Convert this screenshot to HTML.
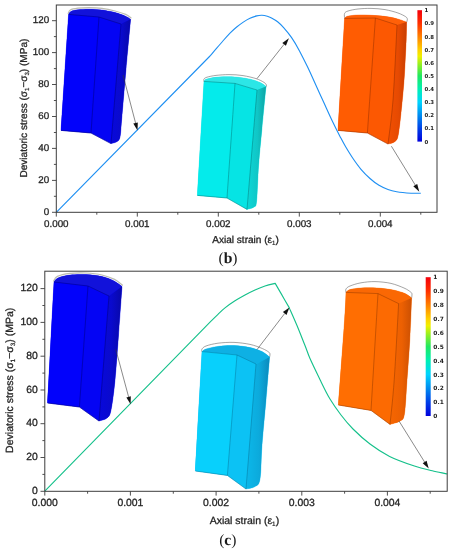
<!DOCTYPE html>
<html><head><meta charset="utf-8"><title>Figure</title>
<style>
html,body{margin:0;padding:0;background:#fff;}
body{width:450px;height:550px;overflow:hidden;}
svg text{stroke-linejoin:round}
.ax text{stroke:#262626;stroke-width:0.3px}
svg{display:block;font-family:"Liberation Sans",sans-serif;text-rendering:geometricPrecision;}
</style></head><body>
<svg width="450" height="550" viewBox="0 0 450 550">
<defs>
<linearGradient id="jet" x1="0" y1="0" x2="0" y2="1">
<stop offset="0" stop-color="#f4000c"/>
<stop offset="0.1" stop-color="#ff3000"/>
<stop offset="0.2" stop-color="#ff8000"/>
<stop offset="0.3" stop-color="#ffd000"/>
<stop offset="0.35" stop-color="#f0f000"/>
<stop offset="0.41" stop-color="#98f020"/>
<stop offset="0.5" stop-color="#20e860"/>
<stop offset="0.6" stop-color="#00f0b4"/>
<stop offset="0.7" stop-color="#00d4ff"/>
<stop offset="0.8" stop-color="#008cf0"/>
<stop offset="0.9" stop-color="#0040e8"/>
<stop offset="1" stop-color="#0000dc"/>
</linearGradient>
<linearGradient id="gb" x1="0" y1="0" x2="1" y2="0"><stop offset="0" stop-color="#0808dc"/><stop offset="0.55" stop-color="#0a0acc"/><stop offset="1" stop-color="#0808a8"/></linearGradient>
<linearGradient id="gc" x1="0" y1="0" x2="1" y2="0"><stop offset="0" stop-color="#0cd8d8"/><stop offset="0.55" stop-color="#10c6c6"/><stop offset="1" stop-color="#0ea4a4"/></linearGradient>
<linearGradient id="go" x1="0" y1="0" x2="1" y2="0"><stop offset="0" stop-color="#f25002"/><stop offset="0.55" stop-color="#e64a02"/><stop offset="1" stop-color="#c83e02"/></linearGradient>
<linearGradient id="gc2" x1="0" y1="0" x2="1" y2="0"><stop offset="0" stop-color="#0cb8ea"/><stop offset="0.55" stop-color="#0caadc"/><stop offset="1" stop-color="#0a8abc"/></linearGradient>
<linearGradient id="go2" x1="0" y1="0" x2="1" y2="0"><stop offset="0" stop-color="#f66602"/><stop offset="0.55" stop-color="#ec6002"/><stop offset="1" stop-color="#cc5002"/></linearGradient>
</defs>
<rect width="450" height="550" fill="#fff"/>

<g id="plot-b">
<path d="M56.3,212.3 L210.0,56.0 C211.1,54.7 214.5,50.8 216.7,48.2 C218.9,45.6 221.1,43.0 223.3,40.5 C225.5,38.0 227.8,35.4 230.0,33.1 C232.2,30.9 234.5,28.8 236.7,27.0 C238.9,25.2 241.1,23.6 243.3,22.1 C245.5,20.6 247.8,19.2 250.0,18.2 C252.2,17.2 254.7,16.4 256.7,15.9 C258.7,15.4 260.2,15.2 262.0,15.3 C263.8,15.4 265.7,15.8 267.3,16.2 C268.9,16.6 269.8,17.0 271.5,17.9 C273.2,18.8 275.6,20.1 277.6,21.7 C279.6,23.3 281.1,24.8 283.4,27.4 C285.7,30.0 288.9,33.7 291.6,37.6 C294.3,41.5 296.9,46.0 299.5,50.9 C302.1,55.8 304.8,61.2 307.5,66.8 C310.2,72.4 312.9,78.6 315.6,84.5 C318.3,90.4 321.0,96.4 323.7,102.3 C326.4,108.2 329.1,114.3 331.8,120.0 C334.5,125.7 337.7,132.0 340.0,136.4 C342.3,140.8 343.3,142.8 345.5,146.5 C347.7,150.2 350.4,154.7 353.0,158.5 C355.6,162.3 358.2,166.0 361.0,169.3 C363.8,172.6 367.0,175.8 370.0,178.5 C373.0,181.2 376.0,183.5 379.0,185.3 C382.0,187.1 385.1,188.4 388.0,189.5 C390.9,190.6 392.9,191.1 396.7,191.7 C400.5,192.3 407.0,192.9 411.0,193.2 C415.0,193.4 419.2,193.2 420.8,193.2" fill="none" stroke="#1e8ff2" stroke-width="1.12" stroke-linejoin="round"/>
<path d="M68.2,13.4 C68.5,12.8 68.7,10.9 70.3,10.0 C71.9,9.1 74.9,8.6 78.0,8.2 C81.1,7.8 85.0,7.6 89.0,7.6 C93.0,7.6 97.7,7.8 102.0,8.4 C106.3,9.0 111.0,10.0 115.0,11.0 C119.0,12.0 123.0,13.3 125.7,14.4 C128.4,15.5 130.1,17.2 131.0,17.8" fill="none" stroke="#bcbcb0" stroke-width="1.20" stroke-linecap="round"/>
<path d="M68.6,14.4 C69.0,13.9 69.4,12.2 71.0,11.4 C72.6,10.6 75.0,10.2 78.0,9.8 C81.0,9.4 85.0,9.2 89.0,9.2 C93.0,9.2 97.7,9.4 102.0,10.0 C106.3,10.6 111.2,11.6 115.0,12.6 C118.8,13.6 122.4,14.9 125.0,16.0 C127.6,17.1 129.7,18.7 130.6,19.2 C129.8,27.5 127.5,52.2 126.0,69.0 C124.5,85.8 122.6,108.7 121.6,120.0 C120.6,131.3 120.8,133.4 120.0,137.0 C119.2,140.6 118.5,140.5 117.0,141.6 C115.5,142.7 112.0,143.3 111.0,143.6 L91.0,133.0 L61.0,130.4 C62.3,111.1 67.3,33.7 68.6,14.4 Z" fill="#0404f4" stroke="#0404f4" stroke-width="0.4" stroke-linejoin="round"/>
<path d="M68.6,14.4 C69.0,13.9 69.4,12.2 71.0,11.4 C72.6,10.6 75.0,10.2 78.0,9.8 C81.0,9.4 85.0,9.2 89.0,9.2 C93.0,9.2 97.7,9.4 102.0,10.0 C106.3,10.6 111.2,11.6 115.0,12.6 C118.8,13.6 122.4,14.9 125.0,16.0 C127.6,17.1 129.7,18.7 130.6,19.2 L121.0,24.0 L99.0,17.0 Z" fill="#1212da"/>
<path d="M68.6,14.4 L99.0,17.0 C97.7,36.3 92.3,113.7 91.0,133.0 L61.0,130.4 C62.3,111.1 67.3,33.7 68.6,14.4 Z" fill="#0202fb"/>
<path d="M121.0,24.0 L130.6,19.2 C129.8,27.5 127.5,52.2 126.0,69.0 C124.5,85.8 122.6,108.7 121.6,120.0 C120.6,131.3 120.8,133.4 120.0,137.0 C119.2,140.6 118.5,140.5 117.0,141.6 C115.5,142.7 112.0,143.3 111.0,143.6 C112.7,123.7 119.3,43.9 121.0,24.0 Z" fill="url(#gb)"/>
<path d="M99.0,17.0 C97.7,36.3 92.3,113.7 91.0,133.0 M68.6,14.4 L99.0,17.0 L121.0,24.0 C119.3,43.9 112.7,123.7 111.0,143.6 M61.0,130.4 L91.0,133.0 L111.0,143.6" fill="none" stroke="#000070" stroke-width="0.5" stroke-linejoin="round" opacity="0.90"/>
<path d="M204.0,81.4 C204.0,81.0 203.5,79.7 204.0,79.0 C204.5,78.3 205.0,77.8 207.0,77.2 C209.0,76.6 212.3,75.8 216.0,75.4 C219.7,75.0 224.5,74.6 229.0,74.6 C233.5,74.6 238.5,74.9 243.0,75.6 C247.5,76.3 252.5,77.5 256.0,78.6 C259.5,79.7 262.3,81.3 264.0,82.4 C265.7,83.5 266.1,84.2 266.4,85.0 C266.7,85.8 266.1,86.7 266.0,87.0" fill="none" stroke="#5a5a5a" stroke-width="0.55" stroke-linecap="round"/>
<path d="M204.0,81.4 C204.5,81.0 204.5,79.7 207.0,79.0 C209.5,78.3 214.3,77.3 219.0,77.0 C223.7,76.7 229.7,76.6 235.0,77.0 C240.3,77.4 246.7,78.4 251.0,79.4 C255.3,80.4 258.5,81.8 261.0,83.0 C263.5,84.2 265.2,86.0 266.0,86.6 C265.3,93.5 263.2,114.9 262.0,128.0 C260.8,141.1 259.5,152.8 258.6,165.0 C257.7,177.2 257.4,194.0 256.6,201.0 C255.8,208.0 255.6,205.6 254.0,207.0 C252.4,208.4 248.2,209.0 247.0,209.4 L227.0,198.0 L197.4,195.4 C198.5,176.4 202.9,100.4 204.0,81.4 Z" fill="#06e4e4" stroke="#06e4e4" stroke-width="0.4" stroke-linejoin="round"/>
<path d="M204.0,81.4 C204.5,81.0 204.5,79.7 207.0,79.0 C209.5,78.3 214.3,77.3 219.0,77.0 C223.7,76.7 229.7,76.6 235.0,77.0 C240.3,77.4 246.7,78.4 251.0,79.4 C255.3,80.4 258.5,81.8 261.0,83.0 C263.5,84.2 265.2,86.0 266.0,86.6 L257.0,90.0 L235.0,83.4 Z" fill="#2ce6e6"/>
<path d="M204.0,81.4 L235.0,83.4 C233.7,102.5 228.3,178.9 227.0,198.0 L197.4,195.4 C198.5,176.4 202.9,100.4 204.0,81.4 Z" fill="#04ebeb"/>
<path d="M257.0,90.0 L266.0,86.6 C265.3,93.5 263.2,114.9 262.0,128.0 C260.8,141.1 259.5,152.8 258.6,165.0 C257.7,177.2 257.4,194.0 256.6,201.0 C255.8,208.0 255.6,205.6 254.0,207.0 C252.4,208.4 248.2,209.0 247.0,209.4 C248.7,189.5 255.3,109.9 257.0,90.0 Z" fill="url(#gc)"/>
<path d="M235.0,83.4 C233.7,102.5 228.3,178.9 227.0,198.0 M204.0,81.4 L235.0,83.4 L257.0,90.0 C255.3,109.9 248.7,189.5 247.0,209.4 M197.4,195.4 L227.0,198.0 L247.0,209.4" fill="none" stroke="#046868" stroke-width="0.5" stroke-linejoin="round" opacity="0.85"/>
<path d="M344.6,18.4 C344.6,17.6 344.0,14.6 344.6,13.4 C345.2,12.2 345.8,11.7 348.0,11.0 C350.2,10.3 354.2,9.4 358.0,9.0 C361.8,8.6 366.5,8.3 371.0,8.4 C375.5,8.5 380.5,8.8 385.0,9.6 C389.5,10.4 394.6,11.8 398.0,13.0 C401.4,14.2 403.9,15.6 405.5,16.6 C407.1,17.6 407.2,18.3 407.4,19.2 C407.6,20.1 406.7,21.5 406.6,22.0" fill="none" stroke="#5a5a5a" stroke-width="0.55" stroke-linecap="round"/>
<path d="M344.6,18.4 C345.0,18.1 345.3,16.9 347.0,16.4 C348.7,15.9 352.0,15.4 355.0,15.2 C358.0,15.0 361.5,14.9 365.0,15.0 C368.5,15.1 372.0,15.3 376.0,15.6 C380.0,15.9 385.2,16.4 389.0,17.0 C392.8,17.6 396.1,18.6 399.0,19.4 C401.9,20.2 405.3,21.6 406.6,22.0 C406.5,25.0 406.6,31.2 406.2,40.0 C405.8,48.8 405.1,64.2 404.4,75.0 C403.7,85.8 402.8,95.2 401.8,105.0 C400.8,114.8 399.5,127.9 398.4,134.0 C397.3,140.1 396.7,139.9 395.0,141.6 C393.3,143.3 389.2,143.6 388.0,144.0 L367.4,133.0 L338.0,130.4 C339.1,111.7 343.5,37.1 344.6,18.4 Z" fill="#fc5802" stroke="#fc5802" stroke-width="0.4" stroke-linejoin="round"/>
<path d="M344.6,18.4 C345.0,18.1 345.3,16.9 347.0,16.4 C348.7,15.9 352.0,15.4 355.0,15.2 C358.0,15.0 361.5,14.9 365.0,15.0 C368.5,15.1 372.0,15.3 376.0,15.6 C380.0,15.9 385.2,16.4 389.0,17.0 C392.8,17.6 396.1,18.6 399.0,19.4 C401.9,20.2 405.3,21.6 406.6,22.0 L397.0,25.0 L375.4,18.0 Z" fill="#ff6008"/>
<path d="M344.6,18.4 L375.4,18.0 C374.1,37.2 368.7,113.8 367.4,133.0 L338.0,130.4 C339.1,111.7 343.5,37.1 344.6,18.4 Z" fill="#ff5c02"/>
<path d="M397.0,25.0 L406.6,22.0 C406.5,25.0 406.6,31.2 406.2,40.0 C405.8,48.8 405.1,64.2 404.4,75.0 C403.7,85.8 402.8,95.2 401.8,105.0 C400.8,114.8 399.5,127.9 398.4,134.0 C397.3,140.1 396.7,139.9 395.0,141.6 C393.3,143.3 389.2,143.6 388.0,144.0 C388.8,136.7 391.5,119.8 393.0,100.0 C394.5,80.2 396.3,37.5 397.0,25.0 Z" fill="url(#go)"/>
<path d="M375.4,18.0 C374.1,37.2 368.7,113.8 367.4,133.0 M344.6,18.4 L375.4,18.0 L397.0,25.0 C396.3,37.5 394.5,80.2 393.0,100.0 C391.5,119.8 388.8,136.7 388.0,144.0 M338.0,130.4 L367.4,133.0 L388.0,144.0" fill="none" stroke="#702000" stroke-width="0.5" stroke-linejoin="round" opacity="0.75"/>
<line x1="123.0" y1="75.0" x2="135.6" y2="123.1" stroke="#3a3a3a" stroke-width="0.6"/><polygon points="137.5,130.5 133.3,123.6 137.8,122.5" fill="#111"/>
<line x1="257.0" y1="78.6" x2="284.1" y2="44.3" stroke="#3a3a3a" stroke-width="0.6"/><polygon points="288.9,38.3 285.9,45.8 282.3,42.9" fill="#111"/>
<line x1="391.4" y1="146.2" x2="415.3" y2="185.1" stroke="#3a3a3a" stroke-width="0.6"/><polygon points="419.3,191.7 413.3,186.3 417.2,183.9" fill="#111"/>
<rect x="417.4" y="10.2" width="4.6" height="131.4" fill="url(#jet)"/>
<text x="424.4" y="12.2" font-size="5.40" fill="#222" font-weight="bold" font-family="'DejaVu Sans',sans-serif">1</text>
<text x="424.4" y="25.3" font-size="5.40" fill="#222" font-weight="bold" font-family="'DejaVu Sans',sans-serif">0.9</text>
<text x="424.4" y="38.5" font-size="5.40" fill="#222" font-weight="bold" font-family="'DejaVu Sans',sans-serif">0.8</text>
<text x="424.4" y="51.6" font-size="5.40" fill="#222" font-weight="bold" font-family="'DejaVu Sans',sans-serif">0.7</text>
<text x="424.4" y="64.7" font-size="5.40" fill="#222" font-weight="bold" font-family="'DejaVu Sans',sans-serif">0.6</text>
<text x="424.4" y="77.9" font-size="5.40" fill="#222" font-weight="bold" font-family="'DejaVu Sans',sans-serif">0.5</text>
<text x="424.4" y="91.0" font-size="5.40" fill="#222" font-weight="bold" font-family="'DejaVu Sans',sans-serif">0.4</text>
<text x="424.4" y="104.2" font-size="5.40" fill="#222" font-weight="bold" font-family="'DejaVu Sans',sans-serif">0.3</text>
<text x="424.4" y="117.3" font-size="5.40" fill="#222" font-weight="bold" font-family="'DejaVu Sans',sans-serif">0.2</text>
<text x="424.4" y="130.4" font-size="5.40" fill="#222" font-weight="bold" font-family="'DejaVu Sans',sans-serif">0.1</text>
<text x="424.4" y="143.6" font-size="5.40" fill="#222" font-weight="bold" font-family="'DejaVu Sans',sans-serif">0</text>
<g class="ax">
<rect x="56.3" y="5.0" width="380.7" height="207.3" fill="none" stroke="#3c3c3c" stroke-width="1"/>
<line x1="52.0" y1="212.3" x2="56.3" y2="212.3" stroke="#3c3c3c" stroke-width="0.9"/>
<text x="49.2" y="214.7" font-size="9.80" text-anchor="end" fill="#262626">0</text>
<line x1="53.9" y1="196.3" x2="56.3" y2="196.3" stroke="#3c3c3c" stroke-width="0.9"/>
<line x1="52.0" y1="180.4" x2="56.3" y2="180.4" stroke="#3c3c3c" stroke-width="0.9"/>
<text x="49.2" y="182.8" font-size="9.80" text-anchor="end" fill="#262626">20</text>
<line x1="53.9" y1="164.4" x2="56.3" y2="164.4" stroke="#3c3c3c" stroke-width="0.9"/>
<line x1="52.0" y1="148.4" x2="56.3" y2="148.4" stroke="#3c3c3c" stroke-width="0.9"/>
<text x="49.2" y="150.8" font-size="9.80" text-anchor="end" fill="#262626">40</text>
<line x1="53.9" y1="132.5" x2="56.3" y2="132.5" stroke="#3c3c3c" stroke-width="0.9"/>
<line x1="52.0" y1="116.5" x2="56.3" y2="116.5" stroke="#3c3c3c" stroke-width="0.9"/>
<text x="49.2" y="118.9" font-size="9.80" text-anchor="end" fill="#262626">60</text>
<line x1="53.9" y1="100.5" x2="56.3" y2="100.5" stroke="#3c3c3c" stroke-width="0.9"/>
<line x1="52.0" y1="84.5" x2="56.3" y2="84.5" stroke="#3c3c3c" stroke-width="0.9"/>
<text x="49.2" y="86.9" font-size="9.80" text-anchor="end" fill="#262626">80</text>
<line x1="53.9" y1="68.6" x2="56.3" y2="68.6" stroke="#3c3c3c" stroke-width="0.9"/>
<line x1="52.0" y1="52.6" x2="56.3" y2="52.6" stroke="#3c3c3c" stroke-width="0.9"/>
<text x="49.2" y="55.0" font-size="9.80" text-anchor="end" fill="#262626">100</text>
<line x1="53.9" y1="36.6" x2="56.3" y2="36.6" stroke="#3c3c3c" stroke-width="0.9"/>
<line x1="52.0" y1="20.7" x2="56.3" y2="20.7" stroke="#3c3c3c" stroke-width="0.9"/>
<text x="49.2" y="23.1" font-size="9.80" text-anchor="end" fill="#262626">120</text>
<line x1="56.3" y1="212.3" x2="56.3" y2="216.6" stroke="#3c3c3c" stroke-width="0.9"/>
<text x="56.3" y="226.7" font-size="9.80" text-anchor="middle" fill="#262626">0.000</text>
<line x1="96.8" y1="212.3" x2="96.8" y2="214.7" stroke="#3c3c3c" stroke-width="0.9"/>
<line x1="137.3" y1="212.3" x2="137.3" y2="216.6" stroke="#3c3c3c" stroke-width="0.9"/>
<text x="137.3" y="226.7" font-size="9.80" text-anchor="middle" fill="#262626">0.001</text>
<line x1="177.8" y1="212.3" x2="177.8" y2="214.7" stroke="#3c3c3c" stroke-width="0.9"/>
<line x1="218.3" y1="212.3" x2="218.3" y2="216.6" stroke="#3c3c3c" stroke-width="0.9"/>
<text x="218.3" y="226.7" font-size="9.80" text-anchor="middle" fill="#262626">0.002</text>
<line x1="258.8" y1="212.3" x2="258.8" y2="214.7" stroke="#3c3c3c" stroke-width="0.9"/>
<line x1="299.3" y1="212.3" x2="299.3" y2="216.6" stroke="#3c3c3c" stroke-width="0.9"/>
<text x="299.3" y="226.7" font-size="9.80" text-anchor="middle" fill="#262626">0.003</text>
<line x1="339.8" y1="212.3" x2="339.8" y2="214.7" stroke="#3c3c3c" stroke-width="0.9"/>
<line x1="380.3" y1="212.3" x2="380.3" y2="216.6" stroke="#3c3c3c" stroke-width="0.9"/>
<text x="380.3" y="226.7" font-size="9.80" text-anchor="middle" fill="#262626">0.004</text>
<line x1="420.8" y1="212.3" x2="420.8" y2="214.7" stroke="#3c3c3c" stroke-width="0.9"/>
<text x="245.5" y="242.8" font-size="10.05" text-anchor="middle" fill="#262626">Axial strain (ε<tspan font-size="6.03" dy="2.0" stroke-width="0.2">1</tspan><tspan dy="-2.0">)</tspan></text>
<text transform="translate(26.8 108.1) rotate(-90)" font-size="10.05" text-anchor="middle" fill="#262626">Deviatoric stress (σ<tspan font-size="6.03" dy="2.0" stroke-width="0.2">1</tspan><tspan dy="-2.0">−σ</tspan><tspan font-size="6.03" dy="2.0" stroke-width="0.2">3</tspan><tspan dy="-2.0">) (MPa)</tspan></text>
</g>
<text x="228.0" y="262.6" font-size="15.6" text-anchor="middle" fill="#1a1a1a" font-family="'Liberation Serif',serif">(<tspan font-weight="bold">b</tspan>)</text>
</g>
<g id="plot-c">
<path d="M44.8,491.1 L211.0,321.2 C212.2,320.1 215.7,316.5 218.0,314.3 C220.3,312.1 222.2,310.1 225.0,307.9 C227.8,305.6 231.7,302.9 235.0,300.8 C238.3,298.7 241.7,296.8 245.0,295.0 C248.3,293.2 251.7,291.5 255.0,290.0 C258.3,288.5 261.6,287.1 265.0,286.0 C268.4,284.9 273.5,283.8 275.2,283.4 C276.2,285.1 278.7,289.4 281.0,293.4 C283.3,297.4 287.8,305.2 289.2,307.6 C290.5,310.6 294.4,319.2 297.0,325.5 C299.6,331.8 302.8,340.0 305.0,345.5 C307.2,351.0 307.5,352.8 310.0,358.5 C312.5,364.2 316.9,373.2 320.2,380.0 C323.5,386.8 326.5,393.2 330.0,399.0 C333.5,404.8 337.2,410.0 341.0,415.0 C344.8,420.0 348.2,424.2 353.0,429.0 C357.8,433.8 363.9,439.4 370.0,444.0 C376.1,448.6 382.2,452.7 389.6,456.4 C397.0,460.1 407.3,463.6 414.4,466.0 C421.5,468.4 426.7,469.4 432.2,470.7 C437.7,472.0 444.7,473.4 447.2,474.0" fill="none" stroke="#14c08a" stroke-width="1.12" stroke-linejoin="round"/>
<path d="M53.6,281.0 C54.2,280.2 54.7,277.7 57.4,276.4 C60.1,275.1 65.2,274.0 70.0,273.4 C74.8,272.8 80.7,272.7 86.0,273.0 C91.3,273.3 97.2,273.9 102.0,275.0 C106.8,276.1 111.2,277.7 114.6,279.4 C118.0,281.1 121.2,284.2 122.5,285.2" fill="none" stroke="#bcbcb0" stroke-width="1.20" stroke-linecap="round"/>
<path d="M54.0,282.0 C54.7,281.3 55.3,279.2 58.0,278.0 C60.7,276.8 65.3,275.6 70.0,275.0 C74.7,274.4 80.7,274.3 86.0,274.6 C91.3,274.9 97.3,275.5 102.0,276.6 C106.7,277.7 110.7,279.3 114.0,281.0 C117.3,282.7 120.7,285.7 122.0,286.6 C121.4,294.7 119.7,319.4 118.5,335.0 C117.3,350.6 116.2,367.5 115.0,380.0 C113.8,392.5 112.3,403.7 111.0,410.0 C109.7,416.3 109.0,416.2 107.0,418.0 C105.0,419.8 100.3,420.5 99.0,421.0 L79.4,407.0 L47.6,403.0 C48.7,382.8 52.9,302.2 54.0,282.0 Z" fill="#0404f4" stroke="#0404f4" stroke-width="0.4" stroke-linejoin="round"/>
<path d="M54.0,282.0 C54.7,281.3 55.3,279.2 58.0,278.0 C60.7,276.8 65.3,275.6 70.0,275.0 C74.7,274.4 80.7,274.3 86.0,274.6 C91.3,274.9 97.3,275.5 102.0,276.6 C106.7,277.7 110.7,279.3 114.0,281.0 C117.3,282.7 120.7,285.7 122.0,286.6 L109.0,296.0 L88.0,286.0 Z" fill="#1212da"/>
<path d="M54.0,282.0 L88.0,286.0 C86.6,306.2 80.8,386.8 79.4,407.0 L47.6,403.0 C48.7,382.8 52.9,302.2 54.0,282.0 Z" fill="#0202fb"/>
<path d="M109.0,296.0 L122.0,286.6 C121.4,294.7 119.7,319.4 118.5,335.0 C117.3,350.6 116.2,367.5 115.0,380.0 C113.8,392.5 112.3,403.7 111.0,410.0 C109.7,416.3 109.0,416.2 107.0,418.0 C105.0,419.8 100.3,420.5 99.0,421.0 C100.7,400.2 107.3,316.8 109.0,296.0 Z" fill="url(#gb)"/>
<path d="M88.0,286.0 C86.6,306.2 80.8,386.8 79.4,407.0 M54.0,282.0 L88.0,286.0 L109.0,296.0 C107.3,316.8 100.7,400.2 99.0,421.0 M47.6,403.0 L79.4,407.0 L99.0,421.0" fill="none" stroke="#000070" stroke-width="0.5" stroke-linejoin="round" opacity="0.90"/>
<path d="M202.0,351.6 C202.0,351.2 201.3,349.9 202.0,349.0 C202.7,348.1 203.3,347.0 206.0,346.0 C208.7,345.0 213.3,343.8 218.0,343.2 C222.7,342.6 228.7,342.2 234.0,342.4 C239.3,342.6 245.2,343.4 250.0,344.4 C254.8,345.4 259.4,347.3 262.5,348.6 C265.6,349.9 267.4,351.1 268.6,352.0 C269.9,352.9 269.8,353.2 270.0,354.0 C270.2,354.8 269.7,356.5 269.6,357.0" fill="none" stroke="#5a5a5a" stroke-width="0.55" stroke-linecap="round"/>
<path d="M202.0,351.6 C202.7,351.2 203.3,349.9 206.0,349.0 C208.7,348.1 213.3,347.0 218.0,346.4 C222.7,345.8 228.7,345.4 234.0,345.6 C239.3,345.8 245.3,346.6 250.0,347.6 C254.7,348.6 258.7,350.0 262.0,351.6 C265.3,353.2 268.3,356.1 269.6,357.0 C269.0,364.2 267.3,385.3 266.0,400.0 C264.7,414.7 263.0,431.8 262.0,445.0 C261.0,458.2 261.2,472.1 260.0,479.0 C258.8,485.9 257.3,484.9 255.0,486.6 C252.7,488.3 247.5,488.6 246.0,489.0 L227.4,475.4 L195.4,471.0 C196.5,451.1 200.9,371.5 202.0,351.6 Z" fill="#0cc2f4" stroke="#0cc2f4" stroke-width="0.4" stroke-linejoin="round"/>
<path d="M202.0,351.6 C202.7,351.2 203.3,349.9 206.0,349.0 C208.7,348.1 213.3,347.0 218.0,346.4 C222.7,345.8 228.7,345.4 234.0,345.6 C239.3,345.8 245.3,346.6 250.0,347.6 C254.7,348.6 258.7,350.0 262.0,351.6 C265.3,353.2 268.3,356.1 269.6,357.0 L256.0,364.0 L237.0,355.0 Z" fill="#0eb0e4"/>
<path d="M202.0,351.6 L237.0,355.0 C235.4,375.1 229.0,455.3 227.4,475.4 L195.4,471.0 C196.5,451.1 200.9,371.5 202.0,351.6 Z" fill="#08d0fc"/>
<path d="M256.0,364.0 L269.6,357.0 C269.0,364.2 267.3,385.3 266.0,400.0 C264.7,414.7 263.0,431.8 262.0,445.0 C261.0,458.2 261.2,472.1 260.0,479.0 C258.8,485.9 257.3,484.9 255.0,486.6 C252.7,488.3 247.5,488.6 246.0,489.0 C247.7,468.2 254.3,384.8 256.0,364.0 Z" fill="url(#gc2)"/>
<path d="M237.0,355.0 C235.4,375.1 229.0,455.3 227.4,475.4 M202.0,351.6 L237.0,355.0 L256.0,364.0 C254.3,384.8 247.7,468.2 246.0,489.0 M195.4,471.0 L227.4,475.4 L246.0,489.0" fill="none" stroke="#045878" stroke-width="0.5" stroke-linejoin="round" opacity="0.70"/>
<path d="M346.0,292.4 C346.0,291.8 345.3,290.1 346.0,289.0 C346.7,287.9 347.5,287.0 350.0,286.0 C352.5,285.0 356.8,283.5 361.0,282.8 C365.2,282.1 370.0,281.5 375.0,281.6 C380.0,281.7 386.2,282.3 391.0,283.4 C395.8,284.5 400.7,286.6 404.0,288.0 C407.3,289.4 409.3,291.0 410.6,292.0 C411.9,293.0 411.8,293.0 412.0,294.0 C412.2,295.0 411.7,297.3 411.6,298.0" fill="none" stroke="#5a5a5a" stroke-width="0.55" stroke-linecap="round"/>
<path d="M346.0,292.4 C346.7,291.9 347.5,290.3 350.0,289.6 C352.5,288.9 356.5,288.3 361.0,288.0 C365.5,287.7 371.7,287.7 377.0,288.0 C382.3,288.3 388.3,289.1 393.0,290.0 C397.7,290.9 401.9,292.3 405.0,293.6 C408.1,294.9 410.5,297.3 411.6,298.0 C411.3,305.0 410.6,326.3 409.8,340.0 C409.0,353.7 407.9,367.7 407.0,380.0 C406.1,392.3 405.6,407.2 404.4,414.0 C403.2,420.8 402.4,419.3 400.0,421.0 C397.6,422.7 391.7,423.8 390.0,424.4 L371.0,410.4 L338.4,405.0 C339.4,390.8 343.3,338.8 344.6,320.0 C345.9,301.2 345.8,297.0 346.0,292.4 Z" fill="#fc6a02" stroke="#fc6a02" stroke-width="0.4" stroke-linejoin="round"/>
<path d="M346.0,292.4 C346.7,291.9 347.5,290.3 350.0,289.6 C352.5,288.9 356.5,288.3 361.0,288.0 C365.5,287.7 371.7,287.7 377.0,288.0 C382.3,288.3 388.3,289.1 393.0,290.0 C397.7,290.9 401.9,292.3 405.0,293.6 C408.1,294.9 410.5,297.3 411.6,298.0 L398.6,303.6 L378.0,293.6 Z" fill="#fa6804"/>
<path d="M346.0,292.4 L378.0,293.6 C376.8,313.1 372.2,390.9 371.0,410.4 L338.4,405.0 C339.4,390.8 343.3,338.8 344.6,320.0 C345.9,301.2 345.8,297.0 346.0,292.4 Z" fill="#ff6e02"/>
<path d="M398.6,303.6 L411.6,298.0 C411.3,305.0 410.6,326.3 409.8,340.0 C409.0,353.7 407.9,367.7 407.0,380.0 C406.1,392.3 405.6,407.2 404.4,414.0 C403.2,420.8 402.4,419.3 400.0,421.0 C397.6,422.7 391.7,423.8 390.0,424.4 C390.7,417.0 392.8,400.1 394.2,380.0 C395.6,359.9 397.9,316.3 398.6,303.6 Z" fill="url(#go2)"/>
<path d="M378.0,293.6 C376.8,313.1 372.2,390.9 371.0,410.4 M346.0,292.4 L378.0,293.6 L398.6,303.6 C397.9,316.3 395.6,359.9 394.2,380.0 C392.8,400.1 390.7,417.0 390.0,424.4 M338.4,405.0 L371.0,410.4 L390.0,424.4" fill="none" stroke="#702800" stroke-width="0.5" stroke-linejoin="round" opacity="0.75"/>
<line x1="115.8" y1="349.4" x2="128.6" y2="396.9" stroke="#3a3a3a" stroke-width="0.6"/><polygon points="130.6,404.3 126.4,397.5 130.8,396.3" fill="#111"/>
<line x1="257.0" y1="349.6" x2="284.7" y2="313.5" stroke="#3a3a3a" stroke-width="0.6"/><polygon points="289.4,307.4 286.5,314.9 282.9,312.1" fill="#111"/>
<line x1="399.0" y1="421.0" x2="424.6" y2="462.0" stroke="#3a3a3a" stroke-width="0.6"/><polygon points="428.7,468.5 422.7,463.2 426.6,460.8" fill="#111"/>
<rect x="425.7" y="277.2" width="5.0" height="138.8" fill="url(#jet)"/>
<text x="433.3" y="279.4" font-size="5.90" fill="#222" font-weight="bold" font-family="'DejaVu Sans',sans-serif">1</text>
<text x="433.3" y="293.2" font-size="5.90" fill="#222" font-weight="bold" font-family="'DejaVu Sans',sans-serif">0.9</text>
<text x="433.3" y="307.1" font-size="5.90" fill="#222" font-weight="bold" font-family="'DejaVu Sans',sans-serif">0.8</text>
<text x="433.3" y="321.0" font-size="5.90" fill="#222" font-weight="bold" font-family="'DejaVu Sans',sans-serif">0.7</text>
<text x="433.3" y="334.9" font-size="5.90" fill="#222" font-weight="bold" font-family="'DejaVu Sans',sans-serif">0.6</text>
<text x="433.3" y="348.8" font-size="5.90" fill="#222" font-weight="bold" font-family="'DejaVu Sans',sans-serif">0.5</text>
<text x="433.3" y="362.6" font-size="5.90" fill="#222" font-weight="bold" font-family="'DejaVu Sans',sans-serif">0.4</text>
<text x="433.3" y="376.5" font-size="5.90" fill="#222" font-weight="bold" font-family="'DejaVu Sans',sans-serif">0.3</text>
<text x="433.3" y="390.4" font-size="5.90" fill="#222" font-weight="bold" font-family="'DejaVu Sans',sans-serif">0.2</text>
<text x="433.3" y="404.3" font-size="5.90" fill="#222" font-weight="bold" font-family="'DejaVu Sans',sans-serif">0.1</text>
<text x="433.3" y="418.2" font-size="5.90" fill="#222" font-weight="bold" font-family="'DejaVu Sans',sans-serif">0</text>
<g class="ax">
<rect x="44.8" y="271.2" width="402.4" height="220.1" fill="none" stroke="#3c3c3c" stroke-width="1"/>
<line x1="40.5" y1="491.3" x2="44.8" y2="491.3" stroke="#3c3c3c" stroke-width="0.9"/>
<text x="37.8" y="493.9" font-size="10.40" text-anchor="end" fill="#262626">0</text>
<line x1="42.4" y1="474.4" x2="44.8" y2="474.4" stroke="#3c3c3c" stroke-width="0.9"/>
<line x1="40.5" y1="457.5" x2="44.8" y2="457.5" stroke="#3c3c3c" stroke-width="0.9"/>
<text x="37.8" y="460.1" font-size="10.40" text-anchor="end" fill="#262626">20</text>
<line x1="42.4" y1="440.6" x2="44.8" y2="440.6" stroke="#3c3c3c" stroke-width="0.9"/>
<line x1="40.5" y1="423.7" x2="44.8" y2="423.7" stroke="#3c3c3c" stroke-width="0.9"/>
<text x="37.8" y="426.4" font-size="10.40" text-anchor="end" fill="#262626">40</text>
<line x1="42.4" y1="406.9" x2="44.8" y2="406.9" stroke="#3c3c3c" stroke-width="0.9"/>
<line x1="40.5" y1="390.0" x2="44.8" y2="390.0" stroke="#3c3c3c" stroke-width="0.9"/>
<text x="37.8" y="392.6" font-size="10.40" text-anchor="end" fill="#262626">60</text>
<line x1="42.4" y1="373.1" x2="44.8" y2="373.1" stroke="#3c3c3c" stroke-width="0.9"/>
<line x1="40.5" y1="356.2" x2="44.8" y2="356.2" stroke="#3c3c3c" stroke-width="0.9"/>
<text x="37.8" y="358.8" font-size="10.40" text-anchor="end" fill="#262626">80</text>
<line x1="42.4" y1="339.3" x2="44.8" y2="339.3" stroke="#3c3c3c" stroke-width="0.9"/>
<line x1="40.5" y1="322.4" x2="44.8" y2="322.4" stroke="#3c3c3c" stroke-width="0.9"/>
<text x="37.8" y="325.0" font-size="10.40" text-anchor="end" fill="#262626">100</text>
<line x1="42.4" y1="305.5" x2="44.8" y2="305.5" stroke="#3c3c3c" stroke-width="0.9"/>
<line x1="40.5" y1="288.6" x2="44.8" y2="288.6" stroke="#3c3c3c" stroke-width="0.9"/>
<text x="37.8" y="291.2" font-size="10.40" text-anchor="end" fill="#262626">120</text>
<line x1="44.8" y1="491.3" x2="44.8" y2="495.6" stroke="#3c3c3c" stroke-width="0.9"/>
<text x="44.8" y="506.2" font-size="10.40" text-anchor="middle" fill="#262626">0.000</text>
<line x1="87.6" y1="491.3" x2="87.6" y2="493.7" stroke="#3c3c3c" stroke-width="0.9"/>
<line x1="130.4" y1="491.3" x2="130.4" y2="495.6" stroke="#3c3c3c" stroke-width="0.9"/>
<text x="130.4" y="506.2" font-size="10.40" text-anchor="middle" fill="#262626">0.001</text>
<line x1="173.3" y1="491.3" x2="173.3" y2="493.7" stroke="#3c3c3c" stroke-width="0.9"/>
<line x1="216.1" y1="491.3" x2="216.1" y2="495.6" stroke="#3c3c3c" stroke-width="0.9"/>
<text x="216.1" y="506.2" font-size="10.40" text-anchor="middle" fill="#262626">0.002</text>
<line x1="258.9" y1="491.3" x2="258.9" y2="493.7" stroke="#3c3c3c" stroke-width="0.9"/>
<line x1="301.8" y1="491.3" x2="301.8" y2="495.6" stroke="#3c3c3c" stroke-width="0.9"/>
<text x="301.8" y="506.2" font-size="10.40" text-anchor="middle" fill="#262626">0.003</text>
<line x1="344.6" y1="491.3" x2="344.6" y2="493.7" stroke="#3c3c3c" stroke-width="0.9"/>
<line x1="387.4" y1="491.3" x2="387.4" y2="495.6" stroke="#3c3c3c" stroke-width="0.9"/>
<text x="387.4" y="506.2" font-size="10.40" text-anchor="middle" fill="#262626">0.004</text>
<line x1="430.2" y1="491.3" x2="430.2" y2="493.7" stroke="#3c3c3c" stroke-width="0.9"/>
<text x="244.4" y="523.7" font-size="10.50" text-anchor="middle" fill="#262626">Axial strain (ε<tspan font-size="6.30" dy="2.1" stroke-width="0.2">1</tspan><tspan dy="-2.1">)</tspan></text>
<text transform="translate(13.2 380.3) rotate(-90)" font-size="10.50" text-anchor="middle" fill="#262626">Deviatoric stress (σ<tspan font-size="6.30" dy="2.1" stroke-width="0.2">1</tspan><tspan dy="-2.1">−σ</tspan><tspan font-size="6.30" dy="2.1" stroke-width="0.2">3</tspan><tspan dy="-2.1">) (MPa)</tspan></text>
</g>
<text x="227.8" y="544.6" font-size="15.6" text-anchor="middle" fill="#1a1a1a" font-family="'Liberation Serif',serif">(<tspan font-weight="bold">c</tspan>)</text>
</g>
</svg></body></html>
